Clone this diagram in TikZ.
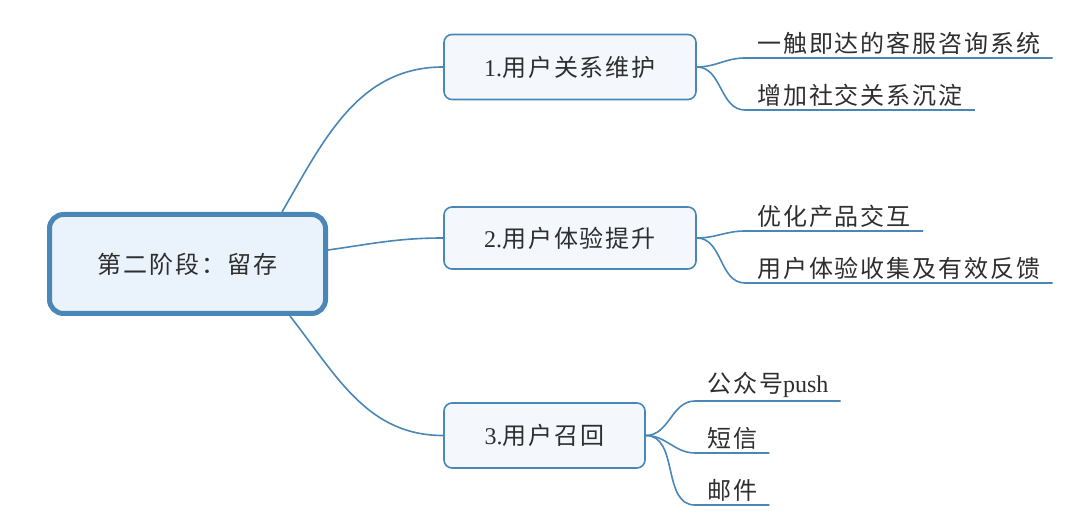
\documentclass[tikz,border=0pt]{standalone}
\usepackage{fontspec}
\setmainfont{Liberation Serif}
\newfontfamily\cjk[LetterSpace=8]{Noto Sans CJK SC}
\definecolor{mapblue}{HTML}{4A86B6}
\definecolor{rootfill}{HTML}{EAF2FB}
\definecolor{topicfill}{HTML}{F4F8FC}
\definecolor{mapink}{HTML}{2E2E2E}

\begin{document}
\begin{tikzpicture}[x=1pt,y=-1pt,
  every node/.style={text=mapink,font=\cjk\fontsize{24}{27}\selectfont},
  root/.style={draw=mapblue,line width=5pt,fill=rootfill,rounded corners=14pt,
    minimum width=276pt,minimum height=99pt},
  topic/.style={draw=mapblue,line width=1.6pt,fill=topicfill,rounded corners=8pt,
    minimum height=65pt},
  leaf/.style={anchor=south west,inner xsep=12pt,inner ysep=3pt},
  link/.style={mapblue,line width=1.6pt}]
  \useasboundingbox (0,0) rectangle (1092,526);

  % main topic and its three branches
  \node[root] (root) at (187.5,264) {第二阶段：留存};
  \node[topic,minimum width=252pt] (t1) at (570,67) {{\rmfamily 1.}用户关系维护};
  \node[topic,minimum width=252pt,minimum height=62pt] (t2) at (570,238) {{\rmfamily 2.}用户体验提升};
  \node[topic,minimum width=201pt] (t3) at (544.5,435.5) {{\rmfamily 3.}用户召回};

  \draw[link] ([xshift=-46pt]root.north east) to[out=60,in=180] (t1.west);
  \draw[link] ([yshift=14pt]root.east) to[out=8,in=180] (t2.west);
  \draw[link] ([xshift=-38pt]root.south east) to[out=-52,in=180] (t3.west);

  % leaves
  \node[leaf] (l11) at (745,58) {一触即达的客服咨询系统};
  \node[leaf] (l12) at (745,110) {增加社交关系沉淀};
  \node[leaf] (l21) at (745,231) {优化产品交互};
  \node[leaf] (l22) at (745,283) {用户体验收集及有效反馈};
  \node[leaf] (l31) at (695,401) {公众号{\rmfamily push}};
  \node[leaf] (l32) at (695,453) {短信};
  \node[leaf] (l33) at (695,505) {邮件};

  \foreach \t/\l in {t1/l11,t1/l12,t2/l21,t2/l22}
    \draw[link] (\t.east) to[out=0,in=180] (\l.south west) -- (\l.south east);
  \foreach \l in {l31,l32,l33}
    \draw[link] (t3.east) to[out=0,in=180] (\l.south west) -- (\l.south east);
\end{tikzpicture}
\end{document}
